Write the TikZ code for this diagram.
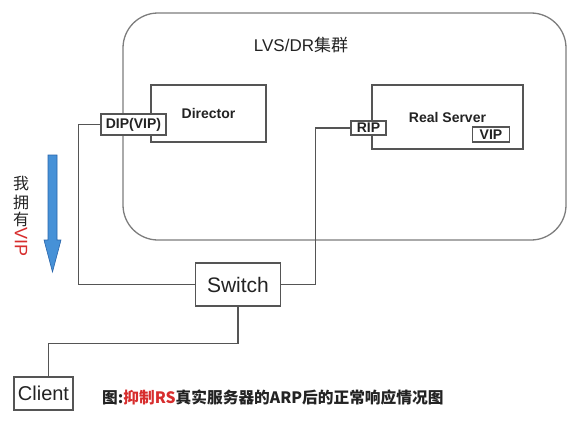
\documentclass[tikz,border=0pt]{standalone}
\usepackage{fontspec}
\usepackage{graphicx}
\setmainfont{Liberation Sans}
\newfontfamily\cjk{Noto Sans CJK SC}
\usetikzlibrary{positioning,calc}
\definecolor{linegray}{RGB}{85,85,85}
\definecolor{framegray}{RGB}{125,125,125}
\definecolor{textgray}{RGB}{35,35,35}
\definecolor{vipred}{RGB}{215,45,45}
\definecolor{arrowblue}{RGB}{70,145,215}
\definecolor{arrowedge}{RGB}{40,100,170}
\tikzset{main base/.style={draw=linegray,line width=1.2pt,fill=white,inner sep=0pt,text centered,text=textgray}, }
\tikzset{main node/.style={rectangle,main base,font=\bfseries\fontsize{14}{16}\selectfont}, }
\tikzset{main node2/.style={rectangle,main base,font=\fontsize{21}{24}\selectfont}, }
\tikzset{cluster/.style={rectangle,draw=framegray,line width=1.3pt,rounded corners=35pt}, }
\tikzset{note/.style={inner sep=0pt,text=textgray,font=\cjk\fontsize{16}{18}\selectfont}, }
\tikzset{linea/.style={draw=linegray,line width=1.2pt}}

\begin{document}
\begin{tikzpicture}[x=1pt,y=-1pt]
  \useasboundingbox (0,0) rectangle (572,420);
  % cluster frame
  \node[cluster, minimum width=443pt, minimum height=227pt] (1) at (344.5,126.5) {};
  \node[text=textgray] (2) at (301,45) {\fontsize{17}{19}\selectfont LVS/DR{\cjk 集群}};
  %
  \node[main node, minimum width=115pt, minimum height=57pt] (3) at (208.5,113.5) {Director};
  \node[main node, minimum width=151pt, minimum height=64pt] (4) at (447.5,117) {Real Server};
  \node[main node, minimum width=65pt, minimum height=21pt] (5) at (133.5,124.5) {DIP(VIP)};
  \node[main node, minimum width=35pt, minimum height=14pt] (6) at (368.5,128) {RIP};
  \node[main node, minimum width=37pt, minimum height=15pt] (7) at (491,134.5) {VIP};
  %
  \node[main node2, minimum width=85pt, minimum height=43pt] (8) at (238,284.5) {Switch};
  \node[main node2, minimum width=59pt, minimum height=33pt, font=\fontsize{20}{22}\selectfont] (9) at (43.5,393.5) {Client};
  %
  \draw[linea] (5.west) -- ++(-22,0) |- (8.west);
  \draw[linea] (6.west) -- ++(-35,0) |- (8.east);
  \draw[linea] (8.south) -- ++(0,37) -| ([xshift=5pt]9.north);
  % left side note
  \fill[arrowblue, draw=arrowedge, line width=0.6pt] (48,155) -- (57,155) -- (57,240) -- (61,240)
    -- (52.5,272) -- (44,240) -- (48,240) -- cycle;
  \foreach \c/\y in {我/184,拥/202,有/219}
    \node[note] (n\y) at (21,\y) {\c};
  \node[rotate=-90, inner sep=0pt, text=vipred, font=\fontsize{18}{20}\selectfont] (10) at (21,242) {VIP};
  % caption
  \node[anchor=west, inner sep=0pt, text=textgray, font=\cjk\bfseries\fontsize{15.7}{18}\selectfont] (11) at (102,397)
    {图:{\color{vipred}抑制RS}真实服务器的ARP后的正常响应情况图};
\end{tikzpicture}
\end{document}
